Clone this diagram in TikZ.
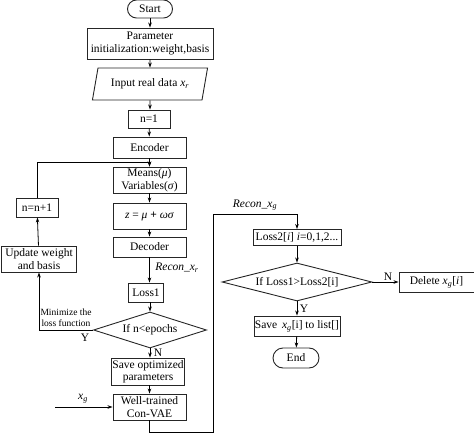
\documentclass[tikz,border=0pt]{standalone}
\usepackage{fontspec}
\setmainfont{Liberation Serif}
\usetikzlibrary{shapes.geometric,arrows.meta}

\begin{document}
\begin{tikzpicture}[x=1pt, y=-1pt, >={Stealth[length=5pt,width=3.5pt]},
  box/.style={draw=black!85, line width=0.9pt, inner sep=1pt, align=center, font=\fontsize{11.5}{12.5}\selectfont},
  term/.style={box, rounded corners=9pt},
  cond/.style={box, diamond, aspect=3, inner sep=0pt},
  flow/.style={->, line width=0.8pt},
  lab/.style={font=\fontsize{11.5}{12.5}\selectfont, inner sep=1pt}]
  \useasboundingbox (0,0) rectangle (474,433);

  % Training column
  \node[term, minimum width=45, minimum height=18] (start) at (150,9) {Start};
  \node[box, minimum width=126, minimum height=31] (param) at (150,43.5) {Parameter\\initialization:weight,basis};
  \node[box, trapezium, trapezium left angle=71, trapezium right angle=109, trapezium stretches=true,
    minimum width=116, minimum height=32] (input) at (150,84) {Input real data \textit{x}\textsubscript{\textit{r}}};
  \node[box, minimum width=42, minimum height=18] (n1) at (149,119) {n=1};
  \node[box, minimum width=73, minimum height=21] (enc) at (149.5,147.5) {Encoder};
  \node[box, minimum width=73, minimum height=26] (means) at (149.5,180) {Means(\textit{μ})\\Variables(\textit{σ})};
  \node[box, minimum width=73, minimum height=26] (zbox) at (149.5,216) {\textit{z} = \textit{μ} \textbf{+} \textit{ωσ}};
  \node[box, minimum width=73, minimum height=20] (dec) at (149.5,247) {Decoder};
  \node[box, minimum width=35, minimum height=19] (loss1) at (146,292.5) {Loss1};
  \node[cond, minimum width=113, minimum height=36] (dia1) at (150,330) {If n<epochs};
  \node[box, minimum width=70, minimum height=27] (save) at (148,371.5) {Save optimized\\parameters};
  \node[box, minimum width=73, minimum height=26] (well) at (149.5,407) {Well-trained\\Con-VAE};

  % Update loop
  \node[box, minimum width=75, minimum height=26] (upd) at (39,259) {Update weight\\and basis};
  \node[box, minimum width=42, minimum height=19] (nn1) at (37,207.5) {n=n+1};

  % Generation column
  \node[box, minimum width=88, minimum height=16] (loss2) at (297,237.5) {Loss2[\textit{i}] \textit{i}=0,1,2...};
  \node[cond, minimum width=150, minimum height=38] (dia2) at (297,282) {If Loss1>Loss2[i]};
  \node[box, minimum width=75, minimum height=20] (del) at (436.5,282) {Delete \textit{x}\textsubscript{\textit{g}}[\textit{i}]};
  \node[box, minimum width=86, minimum height=20] (savexg) at (297,326) {Save \,\textit{x}\textsubscript{\textit{g}}[i] to list[]};
  \node[term, minimum width=46, minimum height=20, rounded corners=10pt] (endn) at (296,358) {End};

  % helper points
  \coordinate (join) at (149.5,162);
  \coordinate (bot) at (213,432);
  \coordinate (top) at (213,214);
  \coordinate (xgin) at (55,407);

  % main flow
  \draw[flow] (start) -- (param);
  \draw[flow] (param) -- (input);
  \draw[flow] (input) -- (input |- n1.north);
  \draw[flow] (n1) -- (enc);
  \draw[flow] (enc) -- (means);
  \draw[flow] (means) -- (zbox);
  \draw[flow] (zbox) -- (dec);
  \draw[flow] (dec) -- (dec.south |- loss1.north);
  \node[lab, font=\fontsize{11.5}{12.5}\selectfont\itshape] (reconr) at (177,268) {Recon\_x\textsubscript{r}};
  \draw[flow] (loss1.south -| dia1.north) -- (dia1.north);
  \draw[flow] (dia1.south) -- (dia1.south |- save.north);
  \node[lab] (labN1) at (158,353) {N};
  \draw[flow] (save.south -| well.north) -- (well.north);

  % loop back
  \draw[flow] (dia1.west) -- (dia1.west -| upd.south) -- (upd.south);
  \node[lab, font=\fontsize{9.5}{11}\selectfont, align=center] (minlab) at (66,317.5) {Minimize the\\loss function};
  \node[lab] (labY1) at (85,338) {Y};
  \draw[flow] (upd) -- (nn1);
  \draw[flow] (nn1.north) |- (join) -- (means.north);

  % generated data
  \draw[flow] (xgin) -- (well.west);
  \node[lab] (xglab) at (83,399) {\textit{x}\textsubscript{\textit{g}}};
  \draw[flow] (well.south) |- (bot) -- (top) -| (loss2.north);
  \node[lab, font=\fontsize{11.5}{12.5}\selectfont\itshape] (recong) at (255,205) {Recon\_x\textsubscript{g}};

  \draw[flow] (loss2) -- (dia2);
  \draw[flow] (dia2.east) -- (del.west);
  \node[lab] (labN2) at (388,277) {N};
  \draw[flow] (dia2.south) -- (savexg.north);
  \node[lab] (labY2) at (304,309) {Y};
  \draw[flow] (savexg) -- (endn);
\end{tikzpicture}
\end{document}
